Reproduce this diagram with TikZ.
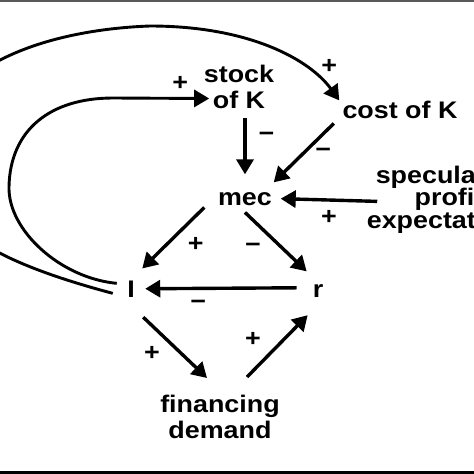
\documentclass[tikz,border=0pt]{standalone}
\usepackage{fontspec}
\setmainfont{Liberation Sans}[FakeStretch=1.12]
\usetikzlibrary{arrows.meta}
\tikzset{
  lbl/.style={font=\fontsize{24}{26}\selectfont\bfseries, inner sep=0pt},
  sgn/.style={font=\fontsize{24}{26}\selectfont\bfseries, inner sep=0pt},
  arr/.style={line width=3.4pt, -{Triangle[length=15pt,width=17pt]}},
  bigloop/.style={line width=2.9pt, -{Triangle[length=15pt,width=17pt]}},
}
\begin{document}
\begin{tikzpicture}[x=1pt, y=-1pt]
\path[use as bounding box, clip] (0,0) rectangle (474,474);
\fill[white] (0,0) rectangle (474,474);
\fill[black!65] (0,0) rectangle (474,2);
\fill[black] (0,471) rectangle (474,474);

\node[lbl, align=center, anchor=north] (stock) at (239,65) {stock\\of K};
\node[lbl, anchor=base] (cost) at (400,118) {cost of K};
\node[lbl, anchor=base] (mec) at (245,205) {mec};
\node[lbl, align=center, anchor=north, font=\fontsize{24}{22.5}\selectfont\bfseries] (spec) at (449,165.5) {speculative\\profit\\expectations};
\node[lbl, anchor=base] (I) at (131,297) {I};
\node[lbl, anchor=base] (r) at (318,297) {r};
\node[lbl, align=center, anchor=north] (fin) at (220,395) {financing\\demand};

% links into mec
\draw[arr] ([xshift=6pt,yshift=-9pt]stock.south) -- node[sgn, pos=0.33, right=12pt] {−} ([yshift=17.5pt]mec.north);
\draw[arr] ([xshift=-8.5pt,yshift=-5pt]cost.south west) -- node[sgn, pos=0.5, right=10pt] {−} ([xshift=1.6pt,yshift=9.5pt]mec.north east);
\draw[arr] ([xshift=10.6pt,yshift=-2pt]spec.west) -- node[sgn, pos=0.5, below=9pt] {+} ([xshift=8.6pt]mec.east);

% triangle
\draw[arr] ([xshift=-13.6pt,yshift=-2pt]mec.south west) -- node[sgn, pos=0.6, right=19pt] {+} ([xshift=7.3pt,yshift=11.8pt]I.north east);
\draw[arr] ([yshift=-7pt]mec.south) -- node[sgn, pos=0.6, left=19.5pt] {−} ([xshift=-5.9pt,yshift=12.5pt]r.north west);
\draw[arr] ([xshift=-15.9pt,yshift=2.75pt]r.west) -- node[sgn, pos=0.65, below=10pt] {−} ([xshift=10.3pt]I.east);

% financing
\draw[arr] ([xshift=8.3pt,yshift=-20pt]I.south east) -- node[sgn, pos=0.6, left=20pt] {+} ([xshift=-13pt,yshift=17pt]fin.north);
\draw[arr] ([xshift=27pt,yshift=18pt]fin.north) -- node[sgn, pos=0.6, left=21pt] {+} ([xshift=-4.9pt,yshift=-18pt]r.south west);

% feedback loops
\draw[bigloop] ([xshift=-10.3pt,yshift=5.4pt]I.west) .. controls (60,278) and (8,230) .. (9,187)
  .. controls (10,130) and (50,98) .. (113,98) -- node[sgn, pos=0.7, above=6pt] {+} ([xshift=5.5pt,yshift=-11.5pt]stock.west);
\draw[bigloop] ([xshift=-14.3pt,yshift=-4.6pt]I.west) .. controls (-20,258) and (-70,220) .. (-70,160)
  .. controls (-70,70) and (40,30) .. (150,26)
  .. controls (250,26) and (310,60) .. node[sgn, pos=0.8, above right=2pt] {+} ([xshift=-3pt]cost.north west);
\end{tikzpicture}
\end{document}
